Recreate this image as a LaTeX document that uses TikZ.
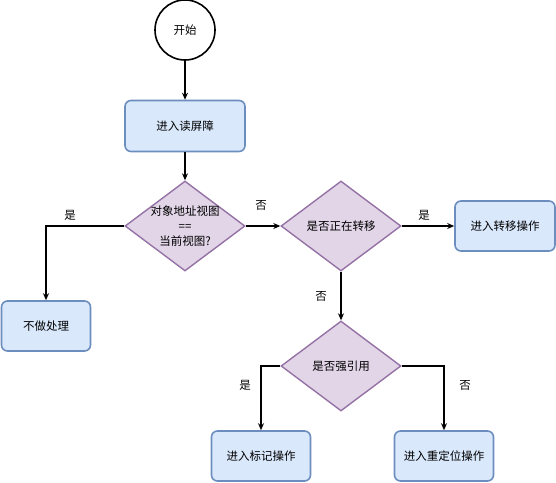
\documentclass[tikz,border=0pt]{standalone}
\usepackage{fontspec}
\setmainfont{Noto Sans CJK SC}
\usepackage{xcolor}
\usetikzlibrary{positioning}
\usetikzlibrary{shapes.geometric}
\usetikzlibrary{arrows.meta}

\definecolor{procfill}{HTML}{DAE8FC}
\definecolor{procline}{HTML}{6C8EBF}
\definecolor{decfill}{HTML}{E1D5E7}
\definecolor{decline}{HTML}{9673A6}

\tikzset{
  startnode/.style={circle, draw=black, line width=1.6pt, fill=white, minimum size=60pt, inner sep=0pt},
  procbox/.style={rectangle, rounded corners=6pt, draw=procline, line width=1.6pt, fill=procfill, minimum width=99pt, minimum height=50pt, inner sep=0pt},
  decision/.style={diamond, draw=decline, line width=1.4pt, fill=decfill, minimum width=120pt, minimum height=90pt, inner sep=0pt},
  flow/.style={-{Stealth[length=7pt,width=6pt]}, line width=1.1pt},
  txt/.style={font=\fontsize{11.5pt}{15pt}\selectfont, align=center}
}

\begin{document}
\begin{tikzpicture}[x=1pt,y=-1pt]
\useasboundingbox (0,0) rectangle (556,482);

% start
\node[startnode, txt] (start) at (185,30) {开始};
\node[procbox, txt, minimum width=120pt, minimum height=51pt] (readbar) at (185,126) {进入读屏障};

% first check
\node[decision] (samechk) at (185,226) {};
\node[txt] (samechktxt) at (samechk) {对象地址视图\\==\\当前视图?};
\node[procbox, txt, minimum width=89pt] (noop) at (46,326) {不做处理};

% moving?
\node[decision] (movechk) at (341,226) {};
\node[txt] (movechktxt) at (movechk) {是否正在转移};
\node[procbox, txt, minimum width=100pt] (moveop) at (505,226) {进入转移操作};

% strong ref?
\node[decision] (strongchk) at (341,366) {};
\node[txt] (strongchktxt) at (strongchk) {是否强引用};
\node[procbox, txt] (markop) at (261,456) {进入标记操作};
\node[procbox, txt] (relocop) at (444,456) {进入重定位操作};

\draw[flow] (start) -- (readbar);
\draw[flow] (readbar) -- (samechk);
\draw[flow] (samechk.west) -| (noop.north);
\draw[flow] (samechk.east) -- (movechk.west);
\draw[flow] (movechk.east) -- (moveop.west);
\draw[flow] (movechk.south) -- (strongchk.north);
\draw[flow] (strongchk.west) -| (markop.north);
\draw[flow] (strongchk.east) -| (relocop.north);

\node[txt] (yes1) at (70,215) {是};
\node[txt] (no1) at (261,205) {否};
\node[txt] (yes2) at (424,215) {是};
\node[txt] (no2) at (321,296) {否};
\node[txt] (yes3) at (245,385) {是};
\node[txt] (no3) at (465,385) {否};

\end{tikzpicture}
\end{document}
